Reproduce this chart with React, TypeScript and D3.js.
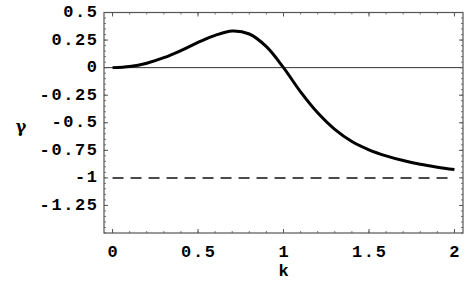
import React from "react";
import * as d3 from "d3";

const kValues = [0, 0.1, 0.2, 0.3, 0.4, 0.5, 0.6, 0.7, 0.8, 0.9, 1.0, 1.1, 1.2, 1.3, 1.4, 1.5, 1.6, 1.7, 1.8, 1.9, 2.0];
const gammaValues = [0, 0.01, 0.04, 0.09, 0.155, 0.228, 0.292, 0.333, 0.305, 0.19, 0.0, -0.22, -0.41, -0.56, -0.67, -0.745, -0.80, -0.843, -0.877, -0.903, -0.925];
const xTicks = [0, 0.5, 1, 1.5, 2];
const xTickLabels = ["0", "0.5", "1", "1.5", "2"];
const yTicks = [0.5, 0.25, 0, -0.25, -0.5, -0.75, -1, -1.25];
const yTickLabels = ["0.5", "0.25", "0", "-0.25", "-0.5", "-0.75", "-1", "-1.25"];
const asymptote = -1;

export default function App() {
  const W = 474, H = 292;
  const left = 104, right = 463, top = 12.5, bottom = 233;
  const x = d3.scaleLinear().domain([-0.05, 2.05]).range([left, right]);
  const y = d3.scaleLinear().domain([-1.5, 0.5]).range([bottom, top]);
  const pts = kValues.map((k, i) => [k, gammaValues[i]] as [number, number]);
  const line = d3.line<[number, number]>().x(d => x(d[0])).y(d => y(d[1])).curve(d3.curveCatmullRom.alpha(0.5));
  const frameColor = "#555";
  const xMinor = d3.range(0, 2.001, 0.1);
  const yMinor = d3.range(-1.5, 0.5001, 0.05);
  const font = "'Liberation Mono', 'DejaVu Sans Mono', monospace";
  const ls = 1.6;
  return (
    <svg width={W} height={H} style={{ position: "absolute", left: 0, top: 0, background: "#fff" }}>
      <line x1={left} x2={right} y1={y(0)} y2={y(0)} stroke="#333" strokeWidth={1} />
      <line x1={x(0)} x2={x(2)} y1={y(asymptote)} y2={y(asymptote)} stroke="#111" strokeWidth={1.5} strokeDasharray="11,7" />
      <path d={line(pts) || ""} fill="none" stroke="#000" strokeWidth={3} />
      <rect x={left} y={top} width={right - left} height={bottom - top} fill="none" stroke={frameColor} strokeWidth={1.2} />
      {xMinor.map((v, i) => (
        <g key={"xm" + i}>
          <line x1={x(v)} x2={x(v)} y1={bottom} y2={bottom - 2} stroke={frameColor} strokeWidth={0.8} />
          <line x1={x(v)} x2={x(v)} y1={top} y2={top + 2} stroke={frameColor} strokeWidth={0.8} />
        </g>
      ))}
      {yMinor.map((v, i) => (
        <g key={"ym" + i}>
          <line x1={left} x2={left + 2} y1={y(v)} y2={y(v)} stroke={frameColor} strokeWidth={0.8} />
          <line x1={right} x2={right - 2} y1={y(v)} y2={y(v)} stroke={frameColor} strokeWidth={0.8} />
        </g>
      ))}
      {xTicks.map((v, i) => (
        <g key={"xM" + i}>
          <line x1={x(v)} x2={x(v)} y1={bottom} y2={bottom - 4} stroke={frameColor} strokeWidth={1} />
          <line x1={x(v)} x2={x(v)} y1={top} y2={top + 4} stroke={frameColor} strokeWidth={1} />
          <text x={x(v) + ls / 2} y={252} textAnchor="middle" dominantBaseline="central" fontFamily={font} fontWeight="bold" fontSize={17} letterSpacing={ls} fill="#000">{xTickLabels[i]}</text>
        </g>
      ))}
      {yTicks.map((v, i) => (
        <g key={"yM" + i}>
          <line x1={left} x2={left + 4} y1={y(v)} y2={y(v)} stroke={frameColor} strokeWidth={1} />
          <line x1={right} x2={right - 4} y1={y(v)} y2={y(v)} stroke={frameColor} strokeWidth={1} />
          <text x={97 + ls} y={y(v)} textAnchor="end" dominantBaseline="central" fontFamily={font} fontWeight="bold" fontSize={17} letterSpacing={ls} fill="#000">{yTickLabels[i]}</text>
        </g>
      ))}
      <text x={x(1)} y={271} textAnchor="middle" dominantBaseline="central" fontFamily={font} fontWeight="bold" fontSize={17} fill="#000">k</text>
      <text x={21} y={126} textAnchor="middle" dominantBaseline="central" fontFamily="'DejaVu Serif', serif" fontWeight="bold" fontSize={16} fill="#000">γ</text>
    </svg>
  );
}
